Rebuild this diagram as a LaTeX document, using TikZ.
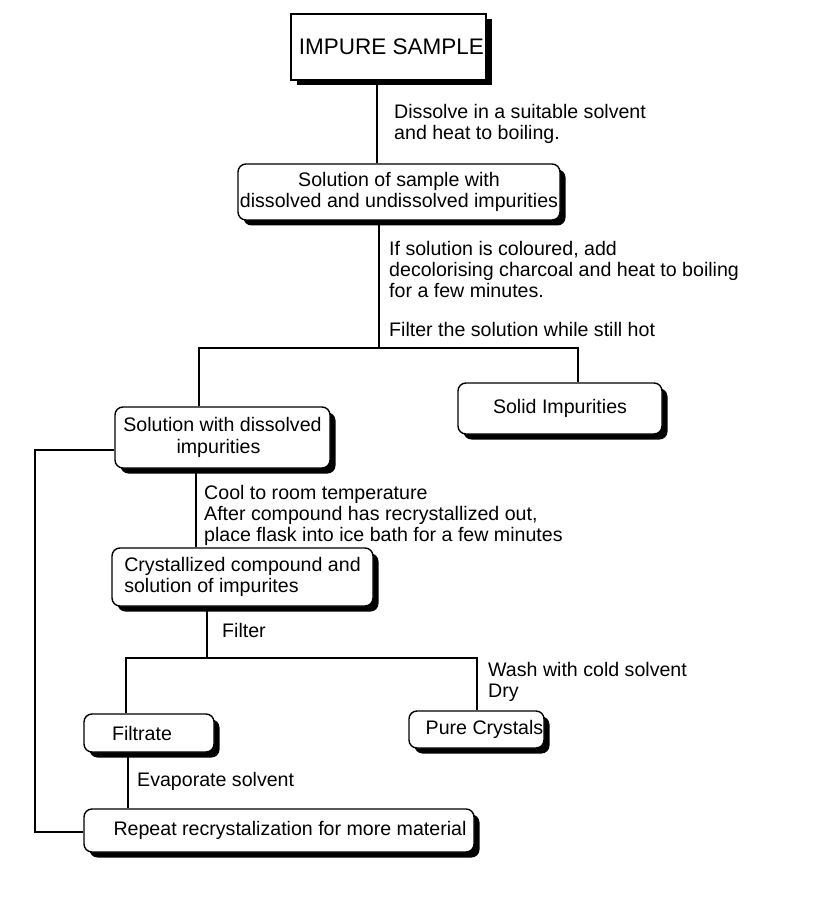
\documentclass[tikz,border=0pt]{standalone}
\usepackage{fontspec}
\setmainfont{Liberation Sans}
\usetikzlibrary{shadows,backgrounds}
\tikzset{
  box/.style={draw=black, line width=1.4pt, fill=white, inner sep=0pt,
    rounded corners=8pt, align=center,
    font=\fontsize{19.6}{21.5}\selectfont,
    drop shadow={shadow xshift=5.5pt, shadow yshift=-5.5pt, opacity=1, fill=black}},
  sqbox/.style={box, rounded corners=0pt},
  lbl/.style={inner sep=0pt, align=left, anchor=base west,
    font=\fontsize{19.6}{21}\selectfont},
  conn/.style={line width=1.6pt, black}
}
\begin{document}
\begin{tikzpicture}[x=1pt, y=-1pt]
\useasboundingbox (0,0) rectangle (819,917);

% boxes
\node[sqbox, minimum width=195pt, minimum height=66pt, font=\fontsize{22.5}{24}\selectfont] (b1) at (388.5,47) {\hspace*{6pt}IMPURE SAMPLE};
\node[box, minimum width=322pt, minimum height=56pt] (b2) at (399,192) {Solution of sample with\\dissolved and undissolved impurities};
\node[box, minimum width=204pt, minimum height=51pt] (b3) at (560,408.5) {Solid Impurities};
\node[box, minimum width=215pt, minimum height=61pt] (b4) at (222.5,437.5) {Solution with dissolved\\impurities\hspace*{8pt}};
\node[box, minimum width=261pt, minimum height=58pt, align=left] (b5) at (242.5,577) {Crystallized compound and\\solution of impurites};
\node[box, minimum width=130pt, minimum height=38pt] (b6) at (149,733) {Filtrate\hspace*{14pt}};
\node[box, minimum width=135pt, minimum height=37pt] (b7) at (476.5,729.5) {\hspace*{16pt}Pure Crystals};
\node[box, minimum width=390pt, minimum height=43pt] (b8) at (279,830.5) {\hspace*{22pt}Repeat recrystalization for more material};

% junction coordinates
\coordinate (a1) at (377,120);
\coordinate (j1) at (379,348);
\coordinate (jl) at (199,348);
\coordinate (jr) at (578,348);
\coordinate (a4) at (196,500);
\coordinate (j2) at (207,658);
\coordinate (jl2) at (126,658);
\coordinate (jr2) at (477,658);
\coordinate (a6) at (128,780);
\coordinate (lp1) at (35,450);
\coordinate (lp2) at (35,832);

\begin{scope}[on background layer]
\draw[conn] (b1.south -| a1) -- (b2.north -| a1);
\draw[conn] (b2.south -| j1) -- (j1);
\draw[conn] (b4.north -| jl) -- (jl) -- (jr) -- (b3.north -| jr);
\draw[conn] (b4.south -| a4) -- (b5.north -| a4);
\draw[conn] (b5.south -| j2) -- (j2);
\draw[conn] (b6.north -| jl2) -- (jl2) -- (jr2) -- (b7.north -| jr2);
\draw[conn] (b6.south -| a6) -- (b8.north -| a6);
\draw[conn] (b4.west |- lp1) -- (lp1) -- (lp2) -- (b8.west |- lp2);
\end{scope}

% labels (base = baseline of the last line)
\node[lbl] (t1) at (394,140) {Dissolve in a suitable solvent\\and heat to boiling.};
\node[lbl] (t2) at (389,297) {If solution is coloured, add\\decolorising charcoal and heat to boiling\\for a few minutes.};
\node[lbl] (t3) at (389,336) {Filter the solution while still hot};
\node[lbl] (t4) at (204,541) {Cool to room temperature\\After compound has recrystallized out,\\place flask into ice bath for a few minutes};
\node[lbl] (t5) at (222,637) {Filter};
\node[lbl] (t6) at (488,697) {Wash with cold solvent\\Dry};
\node[lbl] (t7) at (137,786) {Evaporate solvent};
\end{tikzpicture}
\end{document}
